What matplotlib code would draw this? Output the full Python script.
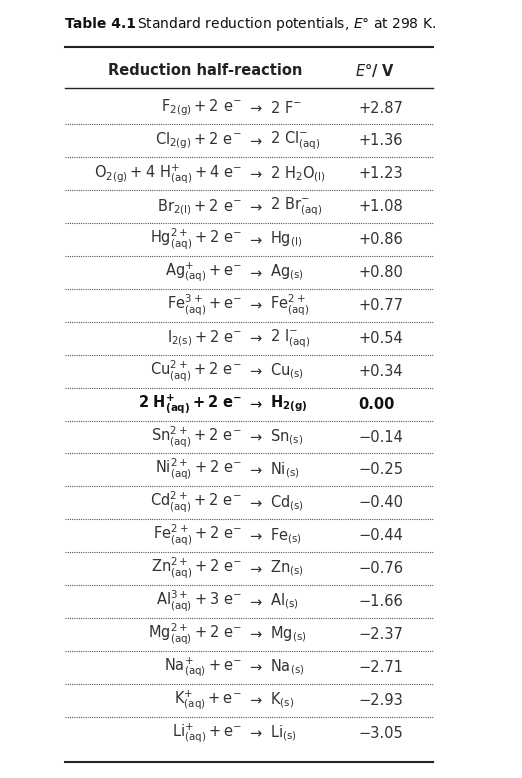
import matplotlib
matplotlib.use('Agg')
from matplotlib import pyplot as plt

plt.rcParams['font.family'] = ['DejaVu Sans']
plt.rcParams['mathtext.fontset'] = 'dejavusans'

lhs = ['F_{2(g)} + 2\\ e^{-}', 'Cl_{2(g)} + 2\\ e^{-}', 'O_{2(g)} + 4\\ H^{+}_{(aq)} + 4\\ e^{-}',
       'Br_{2(l)} + 2\\ e^{-}', 'Hg^{2+}_{(aq)} + 2\\ e^{-}', 'Ag^{+}_{(aq)} + e^{-}',
       'Fe^{3+}_{(aq)} + e^{-}', 'I_{2(s)} + 2\\ e^{-}', 'Cu^{2+}_{(aq)} + 2\\ e^{-}',
       '2\\ H^{+}_{(aq)} + 2\\ e^{-}', 'Sn^{2+}_{(aq)} + 2\\ e^{-}', 'Ni^{2+}_{(aq)} + 2\\ e^{-}',
       'Cd^{2+}_{(aq)} + 2\\ e^{-}', 'Fe^{2+}_{(aq)} + 2\\ e^{-}', 'Zn^{2+}_{(aq)} + 2\\ e^{-}',
       'Al^{3+}_{(aq)} + 3\\ e^{-}', 'Mg^{2+}_{(aq)} + 2\\ e^{-}', 'Na^{+}_{(aq)} + e^{-}',
       'K^{+}_{(aq)} + e^{-}', 'Li^{+}_{(aq)} + e^{-}']
rhs = ['2\\ F^{-}', '2\\ Cl^{-}_{(aq)}', '2\\ H_{2}O_{(l)}', '2\\ Br^{-}_{(aq)}', 'Hg_{(l)}',
       'Ag_{(s)}', 'Fe^{2+}_{(aq)}', '2\\ I^{-}_{(aq)}', 'Cu_{(s)}', 'H_{2(g)}', 'Sn_{(s)}',
       'Ni_{(s)}', 'Cd_{(s)}', 'Fe_{(s)}', 'Zn_{(s)}', 'Al_{(s)}', 'Mg_{(s)}', 'Na_{(s)}',
       'K_{(s)}', 'Li_{(s)}']
e_vals = ['+2.87', '+1.36', '+1.23', '+1.08', '+0.86', '+0.80', '+0.77', '+0.54', '+0.34',
          '0.00', '\u22120.14', '\u22120.25', '\u22120.40', '\u22120.44', '\u22120.76',
          '\u22121.66', '\u22122.37', '\u22122.71', '\u22122.93', '\u22123.05']
bold_row = 9

W, H = 522, 778
fig = plt.figure(figsize=(W / 100, H / 100), dpi=100)
ax = fig.add_axes([0, 0, 1, 1])
ax.set_xlim(0, W)
ax.set_ylim(H, 0)
ax.axis('off')

col = '#333333'
x0, x1 = 65, 433
ax.text(x0, 24, 'Table 4.1', fontsize=10, fontweight='bold', color='#111111', va='center')
ax.text(x0 + 72, 24, 'Standard reduction potentials, $E$\u00b0 at 298 K.', fontsize=10,
        color='#111111', va='center')
ax.plot([x0, x1], [47, 47], color='#222222', lw=1.5)
ax.text(205, 70, 'Reduction half-reaction', fontsize=10.5, fontweight='bold', color='#222222',
        ha='center', va='center')
ax.text(375, 70, '$\\mathbf{\\mathit{E}}$\u00b0/ V', fontsize=10.5, fontweight='bold', color='#222222',
        ha='center', va='center')
ax.plot([x0, x1], [88, 88], color='#222222', lw=1)

y_start, step = 108, 32.9
n = len(lhs)
for i in range(n):
    y = y_start + i * step
    b = i == bold_row
    fw = 'bold' if b else 'normal'
    c = '#111111' if b else col
    if b:
        L = '$\\mathbf{' + lhs[i] + '}$'
        R = '$\\mathbf{' + rhs[i] + '}$'
    else:
        L = '$\\mathregular{' + lhs[i] + '}$'
        R = '$\\mathregular{' + rhs[i] + '}$'
    ax.text(242, y, L, fontsize=10.5, ha='right', va='center', color=c)
    ax.text(255, y, '$\\rightarrow$', fontsize=10.5, ha='center', va='center', color=c)
    ax.text(270, y, R, fontsize=10.5, ha='left', va='center', color=c)
    ax.text(358, y, e_vals[i], fontsize=10.5, ha='left', va='center', color=c, fontweight=fw)
    if i < n - 1:
        ax.plot([x0, x1], [y + step / 2] * 2, color='#555555', lw=0.8, ls=(0, (1, 1)))
ax.plot([x0, x1], [762, 762], color='#222222', lw=1.5)

fig.savefig('out.png', dpi=100)
